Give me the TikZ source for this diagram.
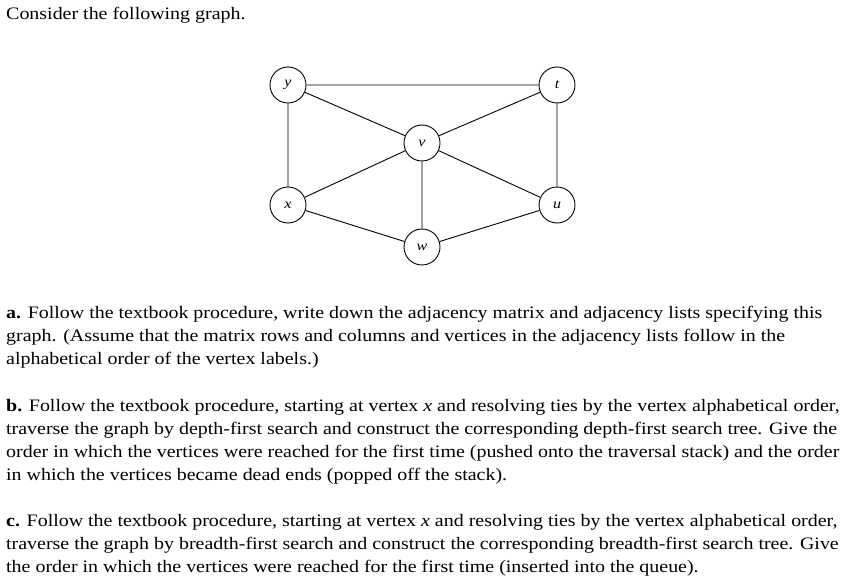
\documentclass[tikz,border=0pt]{standalone}
\usepackage{fontspec}
\setmainfont[FakeStretch=1.14]{Liberation Serif}
\begin{document}
\begin{tikzpicture}[x=1pt,y=-1pt,
  vtx/.style={draw,circle,minimum size=36pt,inner sep=0pt,line width=0.9pt,font=\fontsize{14}{16}\selectfont\itshape},
  edge/.style={line width=0.9pt},
  txt/.style={anchor=base west,inner sep=0pt,font=\fontsize{17.5}{21}\selectfont}]
\useasboundingbox (0,0) rectangle (845,580);
\node[vtx] (y) at (288,85) {y};
\node[vtx] (t) at (557,85) {t};
\node[vtx] (v) at (422,143) {v};
\node[vtx] (x) at (288,205) {x};
\node[vtx] (u) at (557,205) {u};
\node[vtx] (w) at (422,247) {w};
\draw[edge] (y)--(t) (y)--(x) (y)--(v) (t)--(v) (t)--(u) (v)--(x) (v)--(w) (v)--(u) (x)--(w) (w)--(u);
\node[txt] (l0) at (6,20) {Consider the following graph.};
\node[txt] (a1) at (6,318) {\textbf{a.} Follow the textbook procedure, write down the adjacency matrix and adjacency lists specifying this};
\node[txt] (a2) at (6,341) {graph. (Assume that the matrix rows and columns and vertices in the adjacency lists follow in the};
\node[txt] (a3) at (6,364) {alphabetical order of the vertex labels.)};
\node[txt] (b1) at (6,411) {\textbf{b.} Follow the textbook procedure, starting at vertex \textit{x} and resolving ties by the vertex alphabetical order,};
\node[txt] (b2) at (6,434) {traverse the graph by depth-first search and construct the corresponding depth-first search tree. Give the};
\node[txt] (b3) at (6,457) {order in which the vertices were reached for the first time (pushed onto the traversal stack) and the order};
\node[txt] (b4) at (6,480) {in which the vertices became dead ends (popped off the stack).};
\node[txt] (c1) at (6,526) {\textbf{c.} Follow the textbook procedure, starting at vertex \textit{x} and resolving ties by the vertex alphabetical order,};
\node[txt] (c2) at (6,549) {traverse the graph by breadth-first search and construct the corresponding breadth-first search tree. Give};
\node[txt] (c3) at (6,572) {the order in which the vertices were reached for the first time (inserted into the queue).};
\end{tikzpicture}
\end{document}
